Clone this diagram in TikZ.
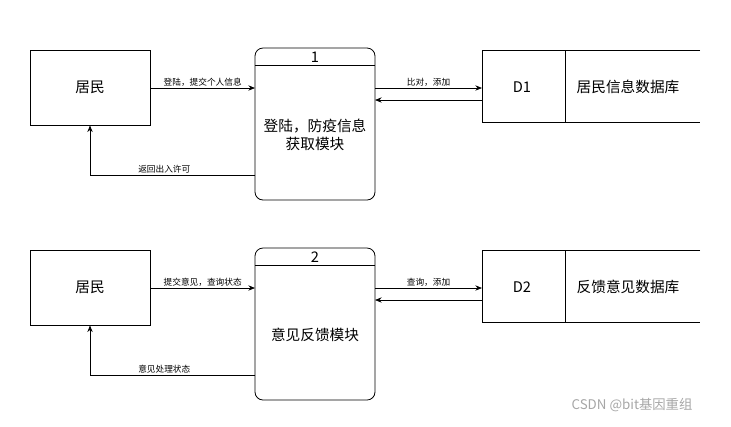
\documentclass[tikz,border=0pt]{standalone}
\usepackage{fontspec}
\setmainfont{Noto Sans CJK SC}
\usetikzlibrary{arrows.meta}
\begin{document}
\begin{tikzpicture}[x=0.75pt,y=-0.75pt,
 box/.style={draw,line width=0.6pt},
 big/.style={font=\fontsize{11}{14}\selectfont},
 sm/.style={font=\fontsize{6.5}{8}\selectfont,inner sep=1pt},
 arr/.style={-{Stealth[length=5pt,width=4pt]},line width=0.6pt}]
\useasboundingbox (0,0) rectangle (731,426);
\foreach \r/\o/\n/\pt/\dt/\ds/\lt/\lb/\ld in {0/0/1/{登陆，防疫信息\\获取模块}/D1/居民信息数据库/登陆，提交个人信息/返回出入许可/比对，添加,
  1/200/2/{意见反馈模块}/D2/反馈意见数据库/提交意见，查询状态/意见处理状态/查询，添加}{
 \begin{scope}[yshift=-\o*0.75pt]
 \node[box,minimum width=90pt,minimum height=56.25pt,big] (a\r) at (90,87.5) {居民};
 \draw[box,rounded corners=6pt] (255,48) rectangle (375,200);
 \draw[box] (255,65) -- (375,65);
 \node[big] (n\r) at (315,57) {\n};
 \node[big,align=center] (p\r) at (315,135) {\pt};
 \coordinate (pl\r) at (255,88);
 \coordinate (pl2\r) at (255,175);
 \coordinate (pr\r) at (375,88);
 \coordinate (pr2\r) at (375,100);
 \draw[box] (700,50) -- (482,50) -- (482,122) -- (700,122);
 \draw[box] (565,50) -- (565,122);
 \coordinate (dl\r) at (482,88);
 \coordinate (dl2\r) at (482,100);
 \node[big] (d\r) at (522,87) {\dt};
 \node[big] (s\r) at (628,87) {\ds};
 \draw[arr] (a\r.east|-pl\r) -- (pl\r) node[sm,midway,above] {\lt};
 \draw[arr] (pl2\r) -- (90,175) node[sm,pos=0.55,above] {\lb} -- (a\r.south);
 \draw[arr] (pr\r) -- (dl\r) node[sm,midway,above] {\ld};
 \draw[arr] (dl2\r) -- (pr2\r);
 \end{scope}}
\node[font=\fontsize{10}{12}\selectfont,text=gray!70] (wm) at (632,405) {CSDN @bit基因重组};
\end{tikzpicture}
\end{document}
